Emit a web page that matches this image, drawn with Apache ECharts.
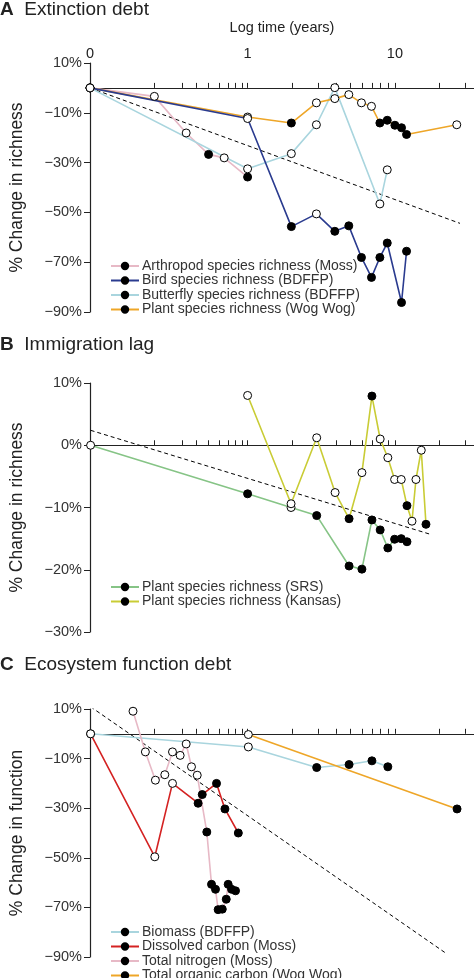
<!DOCTYPE html>
<html><head><meta charset="utf-8">
<script src="https://cdn.jsdelivr.net/npm/echarts@6/dist/echarts.min.js"></script>
<style>html,body{margin:0;padding:0;background:#fff}#c{width:474px;height:978px}</style>
</head><body><div id="c"></div>
<script>
// x values are log10(time in years) positions; "0" sits at -1.07
const zeroPos = -1.07;
const tickVals = [-0.633,-0.442,-0.347,-0.265,-0.19,-0.129,-0.082,-0.034,0,0.301,0.477,0.602,0.699,0.778,0.845,0.903,0.954,1,1.301,1.477];
const topLabels = [zeroPos, 0, 1];
const topLabelText = ['0','1','10'];

// Panel A
const arthX = [-1.07,-0.633,-0.417,-0.265,-0.159,0];
const arthY = [0,-3.4,-18.1,-26.7,-28.1,-35.8];
const arthF = [0,0,0,1,0,1];
const birdX = [-1.07,0,0.297,0.467,0.592,0.687,0.773,0.841,0.898,0.948,1.045,1.079];
const birdY = [0,-12.3,-55.7,-50.6,-57.6,-55.4,-68.1,-76.1,-68.1,-62.3,-86.2,-65.6];
const birdF = [0,0,1,0,1,1,1,1,1,1,1,1];
const butX = [-1.07,0,0.297,0.467,0.592,0.898,0.948];
const butY = [0,-32.5,-26.4,-14.8,0.1,-46.6,-32.9];
const butF = [0,0,0,0,0,0,0];
const wogX = [-1.07,0,0.297,0.467,0.592,0.687,0.773,0.841,0.898,0.948,1.0,1.045,1.079,1.42];
const wogY = [0,-11.7,-14.1,-6.0,-4.3,-2.7,-6.0,-7.4,-14.1,-13.0,-15.0,-16.0,-18.7,-14.8];
const wogF = [0,0,1,0,0,0,0,0,1,1,1,1,1,0];
const dashAX = [-1.07,1.442], dashAY = [0,-54.4];

// Panel B
const srsX = [-1.066,0,0.295,0.469,0.689,0.776,0.844,0.9,0.952,0.998,1.043,1.082];
const srsY = [0,-7.8,-10.0,-11.3,-19.4,-19.9,-12.0,-13.6,-16.5,-15.1,-15.0,-15.5];
const srsF = [0,1,0,1,1,1,1,1,1,1,1,1];
const kanX = [0,0.295,0.469,0.594,0.689,0.776,0.844,0.9,0.952,0.998,1.043,1.082,1.116,1.143,1.179,1.211];
const kanY = [8.0,-9.4,1.2,-7.6,-11.8,-4.4,7.9,1.0,-2.0,-5.5,-5.5,-9.7,-12.2,-5.5,-0.8,-12.7];
const kanF = [0,0,0,0,1,0,1,0,0,0,0,1,0,0,0,1];
const dashBX = [-1.066,1.24], dashBY = [2.4,-14.3];

// Panel C
const bioX = [-1.066,0.005,0.469,0.689,0.844,0.952];
const bioY = [0,-5.3,-13.6,-12.4,-10.9,-13.3];
const bioF = [0,0,1,1,1,1];
const dcX = [-1.066,-0.63,-0.51,-0.336,-0.308,-0.211,-0.154,-0.063];
const dcY = [0,-49.6,-20,-28,-24.5,-20,-30.3,-40];
const dcF = [0,0,0,1,1,1,1,1];
const tnX = [-0.778,-0.694,-0.626,-0.562,-0.51,-0.458,-0.417,-0.381,-0.342,-0.277,-0.245,-0.218,-0.2,-0.172,-0.145,-0.132,-0.109,-0.082];
const tnY = [9.1,-7.3,-18.7,-16.5,-7.3,-8.7,-4.1,-13.3,-16.7,-39.6,-60.7,-62.7,-70.9,-70.7,-66.7,-60.7,-62.7,-63.3];
const tnF = [0,0,0,0,0,0,0,0,0,1,1,1,1,1,1,1,1,1];
const tocX = [0.005,1.422];
const tocY = [-0.3,-30.3];
const tocF = [0,1];
const dashCX = [-1.066,1.342], dashCY = [10.9,-88.3];

const FONT = 'Liberation Sans, Arial, sans-serif';
function mk(name, xs, ys, fs, color, gi, w) {
  return {
    name, type: 'line', xAxisIndex: gi, yAxisIndex: gi,
    symbol: 'circle', symbolSize: 8, z: 3,
    lineStyle: {color, width: w || 1.6},
    itemStyle: {color: '#000', borderColor: '#000', borderWidth: 1},
    data: xs.map((x, i) => ({value: [x, ys[i]], itemStyle: fs[i] ? {} : {color: '#fff'}})),
    animation: false
  };
}
function dash(xs, ys, gi) {
  return {type: 'line', xAxisIndex: gi, yAxisIndex: gi, symbol: 'none', silent: true, z: 2,
    lineStyle: {color: '#000', width: 1, type: [4, 3]}, data: xs.map((x, i) => [x, ys[i]]), animation: false};
}
const grids = [{left: 90, right: 0, top: 63, height: 249}, {left: 90, right: 0, top: 383, height: 249}, {left: 90, right: 0, top: 709, height: 248}];
const yRanges = [[-90, 10, 20], [-30, 10, 10], [-90, 10, 20]];
const yNames = ['% Change in richness', '% Change in richness', '% Change in function'];
const xAxes = [], yAxes = [];
grids.forEach((g, i) => {
  xAxes.push({type: 'value', gridIndex: i, min: zeroPos, max: 1.537,
    axisLine: {onZero: true, lineStyle: {color: '#222', width: 1.2}},
    axisTick: {show: true, inside: true, length: 5, customValues: tickVals, lineStyle: {color: '#222'}},
    axisLabel: {show: false}, splitLine: {show: false}});
  yAxes.push({type: 'value', gridIndex: i, min: yRanges[i][0], max: yRanges[i][1], interval: yRanges[i][2],
    name: yNames[i], nameLocation: 'middle', nameGap: 64, nameTextStyle: {fontSize: 17.5, color: '#222', fontFamily: FONT},
    axisLine: {show: true, onZero: false, lineStyle: {color: '#222', width: 1.2}},
    axisTick: {show: true, length: 6, lineStyle: {color: '#222'}},
    axisLabel: {fontSize: 14.5, color: '#333', fontFamily: FONT, margin: 8,
      formatter: v => (v < 0 ? '\u2212' + (-v) : v) + '%'},
    splitLine: {show: false}});
});
xAxes.push({type: 'value', gridIndex: 0, position: 'top', min: zeroPos, max: 1.537,
  name: 'Log time (years)', nameLocation: 'middle', nameGap: 28,
  nameTextStyle: {fontSize: 14.5, color: '#222', fontFamily: FONT},
  axisLine: {show: false}, axisTick: {show: false}, splitLine: {show: false},
  axisLabel: {customValues: topLabels, fontSize: 14.5, color: '#222', fontFamily: FONT, margin: 2,
    formatter: v => topLabelText[topLabels.findIndex(t => Math.abs(t - v) < 1e-6)] || ''}});

const series = [
  mk('Arthropod species richness (Moss)', arthX, arthY, arthF, '#e7b9c6', 0),
  mk('Butterfly species richness (BDFFP)', butX, butY, butF, '#a9d5de', 0),
  mk('Plant species richness (Wog Wog)', wogX, wogY, wogF, '#eea628', 0),
  mk('Bird species richness (BDFFP)', birdX, birdY, birdF, '#2a3b8f', 0),
  dash(dashAX, dashAY, 0),
  mk('Plant species richness (SRS)', srsX, srsY, srsF, '#86c486', 1),
  mk('Plant species richness (Kansas)', kanX, kanY, kanF, '#c9cc35', 1),
  dash(dashBX, dashBY, 1),
  mk('Biomass (BDFFP)', bioX, bioY, bioF, '#a9d5de', 2),
  mk('Dissolved carbon (Moss)', dcX, dcY, dcF, '#d42222', 2),
  mk('Total nitrogen (Moss)', tnX, tnY, tnF, '#e7b9c6', 2),
  mk('Total organic carbon (Wog Wog)', tocX, tocY, tocF, '#eea628', 2),
  dash(dashCX, dashCY, 2)
];
function leg(top, names) {
  return {top, left: 105, width: 360, height: 120, orient: 'vertical', itemGap: 0.5, itemWidth: 28, itemHeight: 8,
    textStyle: {fontSize: 14, color: '#333', fontFamily: FONT, padding: [0, 0, 0, -2]},
    data: names, selectedMode: false};
}
const legends = [
  leg(254, ['Arthropod species richness (Moss)', 'Bird species richness (BDFFP)', 'Butterfly species richness (BDFFP)', 'Plant species richness (Wog Wog)']),
  leg(575, ['Plant species richness (SRS)', 'Plant species richness (Kansas)']),
  leg(920, ['Biomass (BDFFP)', 'Dissolved carbon (Moss)', 'Total nitrogen (Moss)', 'Total organic carbon (Wog Wog)'])
];
function ttl(top, letter, txt) {
  return {top, left: 0, text: '{b|' + letter + '}  ' + txt,
    textStyle: {fontSize: 19, fontWeight: 'normal', color: '#222', fontFamily: FONT,
      rich: {b: {fontSize: 19, fontWeight: 'bold', color: '#222', fontFamily: FONT}}}, padding: 0};
}
const chart = echarts.init(document.getElementById('c'), null, {renderer: 'canvas'});
chart.setOption({
  backgroundColor: '#fff', animation: false,
  title: [ttl(0, 'A', 'Extinction debt'), ttl(335, 'B', 'Immigration lag'), ttl(655, 'C', 'Ecosystem function debt')],
  legend: legends, grid: grids, xAxis: xAxes, yAxis: yAxes, series
});
</script></body></html>
